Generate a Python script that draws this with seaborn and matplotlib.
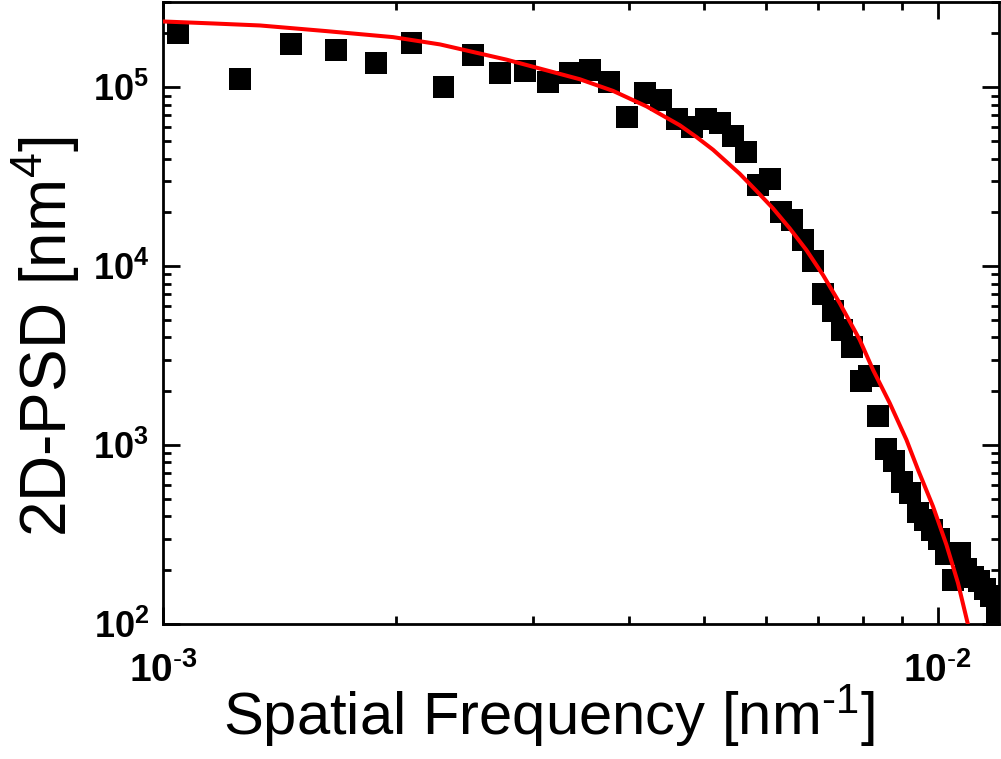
import matplotlib
matplotlib.use("Agg")
import matplotlib.pyplot as plt
from matplotlib import font_manager
from matplotlib.ticker import LogLocator, FuncFormatter, NullFormatter
import seaborn as sns
import pandas as pd
import numpy as np

# ---------------- data ----------------
freq = [1.046e-3, 1.256e-3, 1.465e-3, 1.674e-3, 1.884e-3, 2.093e-3, 2.302e-3,
        2.512e-3, 2.721e-3, 2.930e-3, 3.140e-3, 3.349e-3, 3.558e-3, 3.767e-3,
        3.977e-3, 4.186e-3, 4.395e-3, 4.605e-3, 4.814e-3, 5.023e-3, 5.233e-3,
        5.442e-3, 5.651e-3, 5.860e-3, 6.070e-3, 6.279e-3, 6.488e-3, 6.698e-3,
        6.907e-3, 7.116e-3, 7.326e-3, 7.535e-3, 7.744e-3, 7.953e-3, 8.163e-3,
        8.372e-3, 8.581e-3, 8.791e-3, 9.000e-3, 9.209e-3, 9.419e-3, 9.628e-3,
        9.837e-3, 1.0046e-2, 1.0256e-2, 1.0465e-2, 1.0674e-2, 1.0884e-2,
        1.1093e-2, 1.1302e-2, 1.1512e-2, 1.1721e-2, 1.1930e-2]
psd = [2.00e5, 1.12e5, 1.74e5, 1.61e5, 1.36e5, 1.78e5, 1.00e5,
       1.51e5, 1.21e5, 1.23e5, 1.07e5, 1.20e5, 1.25e5, 1.07e5,
       6.83e4, 9.29e4, 8.54e4, 6.69e4, 6.00e4, 6.69e4, 6.32e4,
       5.33e4, 4.34e4, 2.84e4, 3.09e4, 2.01e4, 1.81e4, 1.40e4,
       1.07e4, 7.00e3, 5.65e3, 4.41e3, 3.54e3, 2.27e3, 2.42e3,
       1.46e3, 949, 818, 625, 543, 420, 383,
       337, 297, 245, 177, 248, 202,
       182, 175, 156, 144, 116]

fit_freq = [1.000e-3, 1.160e-3, 1.334e-3, 1.626e-3, 1.981e-3, 2.278e-3,
            2.777e-3, 3.452e-3, 3.811e-3, 4.209e-3, 4.646e-3, 4.887e-3,
            5.129e-3, 5.552e-3, 5.835e-3, 6.131e-3, 6.443e-3, 6.770e-3,
            7.112e-3, 7.475e-3, 7.933e-3, 8.252e-3, 8.672e-3, 9.113e-3,
            9.432e-3, 9.861e-3, 1.0262e-2, 1.0621e-2, 1.0942e-2]
fit_psd = [2.335e5, 2.276e5, 2.218e5, 2.062e5, 1.909e5, 1.738e5,
           1.428e5, 1.11e5, 9.55e4, 7.83e4, 6.14e4, 5.26e4,
           4.48e4, 3.29e4, 2.638e4, 2.104e4, 1.627e4, 1.231e4,
           8.93e3, 6.21e3, 3.875e3, 2.636e3, 1.718e3, 1.072e3,
           729, 455, 278, 170, 99.5]

x_label = r"Spatial Frequency [nm$^{\text{-}1}$]"
y_label = r"2D-PSD [nm$^{4}$]"

# ---------------- style ----------------
sns.set_theme(style="ticks")
available = {f.name for f in font_manager.fontManager.ttflist}
label_font = "Liberation Sans Narrow" if "Liberation Sans Narrow" in available else "Liberation Sans"
plt.rcParams["font.family"] = ["Liberation Sans", "DejaVu Sans"]
plt.rcParams["mathtext.fontset"] = "custom"
plt.rcParams["mathtext.rm"] = label_font
plt.rcParams["mathtext.bf"] = "Liberation Sans:bold"
plt.rcParams["mathtext.default"] = "rm"
plt.rcParams["text.color"] = "black"
plt.rcParams["axes.labelcolor"] = "black"

fig = plt.figure(figsize=(10.01, 7.59), dpi=100)
W, H = 1001, 759
ax = fig.add_axes([163 / W, (H - 624) / H, (999 - 163) / W, (624 - 2) / H])

df = pd.DataFrame({"freq": freq, "psd": psd})
fit = pd.DataFrame({"freq": fit_freq, "psd": fit_psd})

sns.lineplot(data=fit, x="freq", y="psd", ax=ax, color="#ff0000", lw=2.9,
             sort=False, estimator=None, zorder=3)
sns.scatterplot(data=df, x="freq", y="psd", ax=ax, marker="s", s=250,
                color="black", edgecolor="none", linewidth=0, zorder=2)

ax.set_xscale("log")
ax.set_yscale("log")
ax.set_xlim(1e-3, 1.2e-2)
ax.set_ylim(100, 3.0e5)


def tick_fmt(v, p):
    e = int(round(np.log10(v)))
    if e < 0:
        return r"$\mathbf{10^{\text{-}%d}}$" % (-e)
    return r"$\mathbf{10^{%d}}$" % e


fmt = FuncFormatter(tick_fmt)
ax.xaxis.set_major_locator(LogLocator(base=10, numticks=10))
ax.yaxis.set_major_locator(LogLocator(base=10, numticks=10))
ax.xaxis.set_minor_locator(LogLocator(base=10, subs=np.arange(2, 10), numticks=20))
ax.yaxis.set_minor_locator(LogLocator(base=10, subs=np.arange(2, 10), numticks=20))
ax.xaxis.set_major_formatter(fmt)
ax.yaxis.set_major_formatter(fmt)
ax.xaxis.set_minor_formatter(NullFormatter())
ax.yaxis.set_minor_formatter(NullFormatter())

ax.tick_params(which="both", direction="in", top=True, right=True, width=2,
               colors="black", labelsize=26)
ax.tick_params(which="major", length=12)
ax.tick_params(which="minor", length=6)
ax.tick_params(axis="x", which="major", pad=20, labelsize=28)
ax.tick_params(axis="y", which="major", pad=10)
for s in ax.spines.values():
    s.set_linewidth(2)
    s.set_color("black")
    s.set_visible(True)
ax.grid(False)

ax.set_xlabel(x_label, fontsize=43, family=label_font)
ax.set_ylabel(y_label, fontsize=46, family=label_font)
ax.xaxis.set_label_coords((549 - 163) / 836, (624 - 682) / 622)
ax.yaxis.set_label_coords((82 - 163) / 836, 0.5 + (311 - 335) / 622)

fig.savefig("out.png", dpi=100)
